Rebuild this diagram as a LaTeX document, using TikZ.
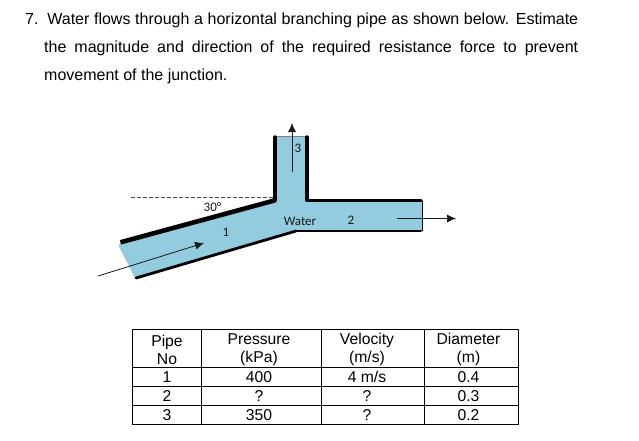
\documentclass[tikz,border=0pt]{standalone}
\usepackage{fontspec}
\setmainfont{Liberation Sans}
\newfontfamily\labfont{Carlito}
\usetikzlibrary{arrows.meta}
\definecolor{pipeblue}{RGB}{146,204,222}
\tikzset{
  wall/.style={line width=3.4pt,black,line cap=round,line join=round},
  thickwall/.style={line width=4.6pt,black,line cap=butt,line join=round},
  lowwall/.style={line width=2.8pt,black,line cap=round,line join=round},
  flow/.style={line width=0.8pt,black!90,-{Latex[length=9pt,width=8pt]}},
  lab/.style={inner sep=0pt,font=\labfont\fontsize{13}{15}\selectfont,text=black!90},
  cell/.style={inner sep=0pt,align=center,font=\fontsize{15.7}{18}\selectfont},
  head/.style={inner sep=0pt,anchor=base west,font=\fontsize{16}{18}\selectfont},
  grid/.style={line width=0.9pt,black}
}
\begin{document}
\begin{tikzpicture}[x=1pt,y=-1pt]
\useasboundingbox (0,0) rectangle (639,440);
% heading
\node[head] (h1) at (25,24) {\makebox[553pt][s]{7.\hspace{0.55em}Water flows through a horizontal branching pipe as shown below. Estimate}};
\node[head] (h2) at (44,52) {\makebox[534pt][s]{the magnitude and direction of the required resistance force to prevent}};
\node[head] (h3) at (44,80) {movement of the junction.};
% pipe
\fill[pipeblue] (118.5,245.5) -- (121,242) -- (275,200) -- (275,136) -- (307,136) -- (307,200.5) -- (422,200.5) -- (422,231) -- (296,231) -- (135,278) -- cycle;
\draw[line width=0.6pt,black!50] (275,136) -- (307,136);
\draw[dash pattern=on 3.5pt off 2.5pt,line width=0.7pt,black!70] (131,197) -- (275,197);
\draw[thickwall] (120.5,242.3) -- (275,200.3);
\draw[wall] (275,200.5) -- (275,137);
\draw[wall] (307,137) -- (307,200.5) -- (421,200.5);
\draw[line width=1pt,black] (422,201) -- (422,231);
\draw[lowwall] (136,278) -- (296,231);
\draw[line width=2pt,black,line cap=round] (296,231) -- (421,231);
% flow arrows
\coordinate (a1s) at (98,276); \coordinate (a1e) at (204,243);
\coordinate (a2s) at (397,218.5); \coordinate (a2e) at (456,218.5);
\coordinate (a3s) at (292,172); \coordinate (a3e) at (292,123);
\draw[flow] (a1s) -- (a1e);
\draw[flow] (a2s) -- (a2e);
\draw[flow] (a3s) -- (a3e);
% labels
\node[lab] (l30) at (212.5,207.5) {30°};
\node[lab] (l1) at (226,232) {1};
\node[lab] (lw) at (300,221) {Water};
\node[lab] (l2) at (351,220) {2};
\node[lab] (l3) at (298,148) {3};
% table
\draw[grid] (132,329.5) rectangle (518,424);
\foreach \yy in {367.5,386,405} \draw[grid] (132,\yy) -- (518,\yy);
\foreach \xx in {201,321.5,424} \draw[grid] (\xx,329.5) -- (\xx,424);
\node[cell] (c11) at (167,349.5) {Pipe\\No};
\node[cell] (c12) at (259,349.5) {Pressure\\(kPa)};
\node[cell] (c13) at (367,349.5) {Velocity\\(m/s)};
\node[cell] (c14) at (468.5,349.5) {Diameter\\(m)};
\node[cell] (c21) at (167,377) {1};
\node[cell] (c22) at (259,377) {400};
\node[cell] (c23) at (367,377) {4 m/s};
\node[cell] (c24) at (468.5,377) {0.4};
\node[cell] (c31) at (167,396) {2};
\node[cell] (c32) at (259,396) {?};
\node[cell] (c33) at (367,396) {?};
\node[cell] (c34) at (468.5,396) {0.3};
\node[cell] (c41) at (167,415) {3};
\node[cell] (c42) at (259,415) {350};
\node[cell] (c43) at (367,415) {?};
\node[cell] (c44) at (468.5,415) {0.2};
\end{tikzpicture}
\end{document}
